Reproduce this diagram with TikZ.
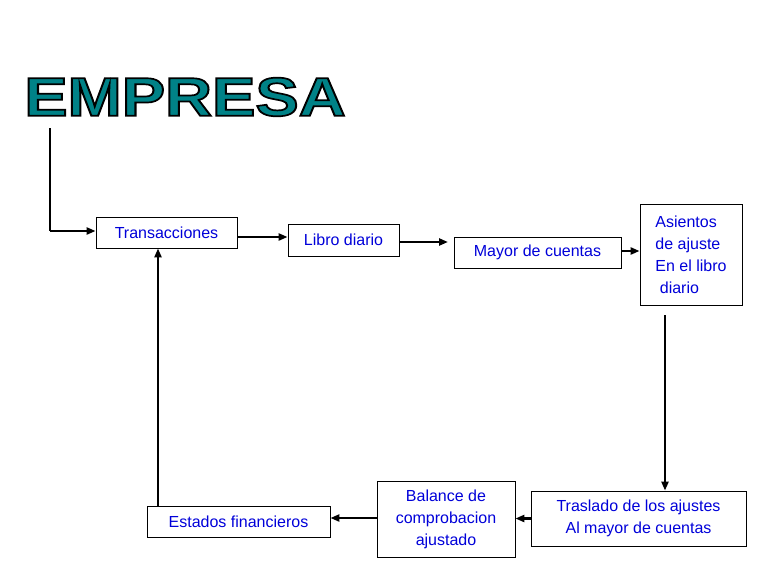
\documentclass[tikz,border=0pt]{standalone}
\usepackage{fontspec}
\setmainfont{Liberation Sans}
\usetikzlibrary{arrows.meta}
\begin{document}
\begin{tikzpicture}[x=1pt,y=-1pt,
 box/.style={draw,line width=0.8pt,inner sep=0pt,font=\fontsize{16}{22}\selectfont,text=blue!85!black,align=center},
 arr/.style={-{Triangle[length=9pt,width=7pt]},line width=2.6pt},
 wa/.style={font=\fontsize{52}{52}\bfseries\selectfont,xscale=1.25,yscale=1.05}]
\useasboundingbox (0,0) rectangle (768,576);
\node[wa,text={rgb,255:red,0;green,130;blue,135}] (emp) at (185,97) {\special{pdf:code q 2 Tr 1.6 w 0 0 0 RG}EMPRESA\special{pdf:code Q}};
\coordinate (c1) at (50,128);
\coordinate (c2) at (50,231);
\node[box,minimum width=141pt,minimum height=31pt] (tr) at (166.5,232.5) {Transacciones};
\node[box,minimum width=111pt,minimum height=32pt] (ld) at (343.5,240) {Libro diario};
\node[box,minimum width=167pt,minimum height=31pt] (my) at (537.5,252.5) {Mayor de cuentas};
\node[box,minimum width=102pt,minimum height=101pt,align=left] (as) at (691,254.5) {Asientos\\de ajuste\\En el libro\\\ diario};
\node[box,minimum width=215pt,minimum height=55pt] (ta) at (638.5,518.5) {Traslado de los ajustes\\Al mayor de cuentas};
\node[box,minimum width=138pt,minimum height=76pt] (ba) at (446,519) {Balance de\\comprobacion\\ajustado};
\node[box,minimum width=183pt,minimum height=31pt] (es) at (238.5,521.5) {Estados financieros};
\draw[line width=2.6pt] (c1) -- (c2);
\draw[arr] (c2) -- (tr.west|-c2);
\draw[arr] (tr.east|-0,237) -- (ld.west|-0,237);
\draw[arr] (ld.east|-0,242) -- (448,242);
\draw[arr] (my.east|-0,251) -- (as.west|-0,251);
\draw[arr] (665,315) -- (ta.north-|665,0);
\draw[arr] (ta.west) -- (ba.east|-ta.west);
\draw[arr] (ba.west|-0,518) -- (es.east|-0,518);
\draw[arr] (es.north-|158,0) -- (tr.south-|158,0);
\end{tikzpicture}
\end{document}
